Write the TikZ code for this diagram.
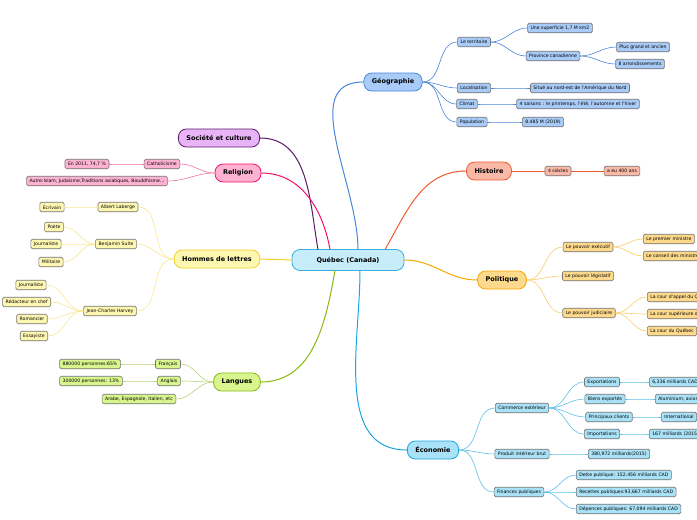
\documentclass[tikz,border=0pt]{standalone}
\usepackage{fontspec}
\setmainfont{DejaVu Sans}
\begin{document}
\begin{tikzpicture}[x=1pt,y=-1pt,
 leaf/.style={draw=black!55,rounded corners=1.5pt,inner xsep=3pt,inner ysep=0pt,minimum height=9.5pt,font=\fontsize{4.6}{5}\selectfont,line width=0.6pt},
 mainn/.style={rounded corners=8pt,inner xsep=8pt,inner ysep=0pt,minimum height=18pt,font=\fontsize{6.5}{7}\selectfont\bfseries,line width=0.8pt},
 geo/.style={leaf,fill=geoF},geoE/.style={draw=geoL,line width=0.6pt},
 his/.style={leaf,fill=hisF},hisE/.style={draw=hisL,line width=0.6pt},
 pol/.style={leaf,fill=polF},polE/.style={draw=polL!60,line width=0.6pt},
 eco/.style={leaf,fill=ecoF},ecoE/.style={draw=ecoL!70,line width=0.6pt},
 rel/.style={leaf,fill=relF},relE/.style={draw=relL!60,line width=0.6pt},
 hom/.style={leaf,fill=homF},homE/.style={draw=homL!50,line width=0.6pt},
 lan/.style={leaf,fill=lanF},lanE/.style={draw=lanL!60,line width=0.6pt}]
\definecolor{geoF}{HTML}{A9CBF7}\definecolor{geoL}{HTML}{4A86D8}
\definecolor{hisF}{HTML}{F9B9A6}\definecolor{hisL}{HTML}{F0582E}
\definecolor{polF}{HTML}{FDD98C}\definecolor{polL}{HTML}{F5A800}
\definecolor{ecoF}{HTML}{A9E1F7}\definecolor{ecoL}{HTML}{1AA4E0}
\definecolor{socF}{HTML}{E9B4F7}\definecolor{socL}{HTML}{5A1A6A}
\definecolor{relF}{HTML}{FDB2D2}\definecolor{relL}{HTML}{F0106E}
\definecolor{homF}{HTML}{FEF7B2}\definecolor{homL}{HTML}{F0D020}
\definecolor{lanF}{HTML}{D8F58E}\definecolor{lanL}{HTML}{88B810}
\definecolor{cenF}{HTML}{C7ECFA}\definecolor{cenL}{HTML}{3AAEE0}
\useasboundingbox (0,0) rectangle (697,520);
\begin{scope}
\clip (0,0) rectangle (697,520);
% center
\node[mainn,draw=cenL,fill=cenF,minimum width=112pt,minimum height=21pt] (c) at (348,260) {Québec (Canada)};
\node[mainn,draw=geoL,fill=geoF] (geo) at (393,82) {Géographie};
\node[mainn,draw=hisL,fill=hisF] (his) at (489,171) {Histoire};
\node[mainn,draw=polL,fill=polF] (pol) at (502,280) {Politique};
\node[mainn,draw=ecoL,fill=ecoF] (eco) at (433,450) {Économie};
\node[mainn,draw=socL,fill=socF] (soc) at (219,138) {Société et culture};
\node[mainn,draw=relL,fill=relF] (rel) at (238,173) {Religion};
\node[mainn,draw=homL,fill=homF] (hom) at (217,259) {Hommes de lettres};
\node[mainn,draw=lanL,fill=lanF] (lan) at (237,382) {Langues};
\draw[geoL,line width=1pt] (358,249.5) to[out=90,in=180] (geo.west);
\draw[hisL,line width=1pt] (385,249.5) to[out=60,in=180] (his.west);
\draw[polL,line width=1pt] (c.east) to[out=0,in=180] (pol.west);
\draw[ecoL,line width=1pt] (360,270.5) to[out=-90,in=180] (eco.west);
\draw[socL,line width=1pt] (318,249.5) to[out=100,in=0] (soc.east);
\draw[relL,line width=1pt] (330,249.5) to[out=100,in=0] (rel.east);
\draw[homL,line width=1pt] (c.west) -- (hom.east);
\draw[lanL,line width=1pt] (335,270.5) to[out=-100,in=0] (lan.east);
% geographie
\node[geo] (g1) at (474,42) {Le territoire};
\node[geo] (g11) at (560,28) {Une superficie 1,7 M km2};
\node[geo] (g12) at (553,56) {Province canadienne};
\node[geo] (g121) at (643,47) {Plus grand et ancien};
\node[geo] (g122) at (640,64) {8 arrondissements};
\node[geo] (g2) at (474,88) {Localisation};
\node[geo] (g21) at (580,88) {Situé au nord-est de l'Amérique du Nord};
\node[geo] (g3) at (467,104) {Climat};
\node[geo] (g31) at (578,104) {4 saisons : le printemps, l'été, l'automne et l'hiver};
\node[geo] (g4) at (472,122) {Population};
\node[geo] (g41) at (543,122) {8.485 M (2019)};
\foreach \a/\b in {geo/g1,geo/g2,geo/g3,geo/g4,g1/g11,g1/g12,g12/g121,g12/g122,g2/g21,g3/g31,g4/g41}
 \draw[geoE] (\a.east) to[out=0,in=180] (\b.west);
% histoire
\node[his] (h1) at (558,171) {4 siècles};
\node[his] (h11) at (622,171) {a eu 400 ans};
\draw[hisE] (his.east) -- (h1.west); \draw[hisE] (h1.east) -- (h11.west);
% politique
\node[pol] (p1) at (588,247) {Le pouvoir exécutif};
\node[pol,anchor=west] (p11) at (643,239) {Le premier ministre};
\node[pol,anchor=west] (p12) at (643,256) {Le conseil des ministres};
\node[pol] (p2) at (588,276) {Le pouvoir législatif};
\node[pol] (p3) at (589,313) {Le pouvoir judiciaire};
\node[pol,anchor=west] (p31) at (647,297) {La cour d'appel du Québec};
\node[pol,anchor=west] (p32) at (647,314) {La cour supérieure du Québec};
\node[pol,anchor=west] (p33) at (647,331) {La cour du Québec};
\foreach \a/\b in {pol/p1,pol/p2,pol/p3,p1/p11,p1/p12,p3/p31,p3/p32,p3/p33}
 \draw[polE] (\a.east) to[out=0,in=180] (\b.west);
% economie
\node[eco] (e1) at (522,408) {Commerce extérieur};
\node[eco] (e11) at (602,382) {Exportations};
\node[eco,anchor=west] (e111) at (649,382) {6,336 milliards CAD};
\node[eco] (e12) at (605,399) {Biens exportés};
\node[eco,anchor=west] (e121) at (655,399) {Aluminium, avions};
\node[eco] (e13) at (609,417) {Principaux clients};
\node[eco,anchor=west] (e131) at (661,417) {International};
\node[eco] (e14) at (602,434) {Importations};
\node[eco,anchor=west] (e141) at (649,434) {167 milliards (2015)};
\node[eco] (e2) at (522,454) {Produit intérieur brut};
\node[eco] (e21) at (619,454) {380,972 milliards(2015)};
\node[eco] (e3) at (519,492) {Finances publiques};
\node[eco,anchor=west] (e31) at (576,475) {Dette publique: 152,456 milliards CAD};
\node[eco,anchor=west] (e32) at (576,492) {Recettes publiques:93,667 milliards CAD};
\node[eco,anchor=west] (e33) at (576,509) {Dépences publiques: 67,094 milliards CAD};
\foreach \a/\b in {eco/e1,eco/e2,eco/e3,e1/e11,e1/e12,e1/e13,e1/e14,e11/e111,e12/e121,e13/e131,e14/e141,e2/e21,e3/e31,e3/e32,e3/e33}
 \draw[ecoE] (\a.east) to[out=0,in=180] (\b.west);
% religion
\node[rel] (r1) at (162,164) {Catholicisme};
\node[rel] (r11) at (87,164) {En 2011, 74,7 \%};
\node[rel] (r2) at (97,181) {Autre:Islam, Judaïsme,Traditions asiatiques, Bouddhisme...};
\foreach \a/\b in {rel/r1,rel/r2,r1/r11}
 \draw[relE] (\a.west) to[out=180,in=0] (\b.east);
% hommes de lettres
\node[hom] (a1) at (118,207) {Albert Laberge};
\node[hom] (a11) at (52,207) {Écrivain};
\node[hom] (a2) at (116,244) {Benjamin Sulte};
\node[hom] (a21) at (54,227) {Poète};
\node[hom] (a22) at (46,244) {Journaliste};
\node[hom] (a23) at (51,262) {Militaire};
\node[hom] (a3) at (110,311) {Jean-Charles Harvey};
\node[hom] (a31) at (31,285) {Journaliste};
\node[hom,anchor=east] (a32) at (51,302) {Rédacteur en chef};
\node[hom] (a33) at (32,319) {Romancier};
\node[hom] (a34) at (34,336) {Essayiste};
\foreach \a/\b in {hom/a1,hom/a2,hom/a3,a1/a11,a2/a21,a2/a22,a2/a23,a3/a31,a3/a32,a3/a33,a3/a34}
 \draw[homE] (\a.west) to[out=180,in=0] (\b.east);
% langues
\node[lan] (l1) at (168,364) {Français};
\node[lan] (l11) at (90,364) {880000 personnes:65\%};
\node[lan] (l2) at (169,381) {Anglais};
\node[lan] (l21) at (91,381) {300000 personnes: 13\%};
\node[lan] (l3) at (139,399) {Arabe, Espagnole, Italien, etc};
\foreach \a/\b in {lan/l1,lan/l2,lan/l3,l1/l11,l2/l21}
 \draw[lanE] (\a.west) to[out=180,in=0] (\b.east);
\end{scope}
\end{tikzpicture}
\end{document}
